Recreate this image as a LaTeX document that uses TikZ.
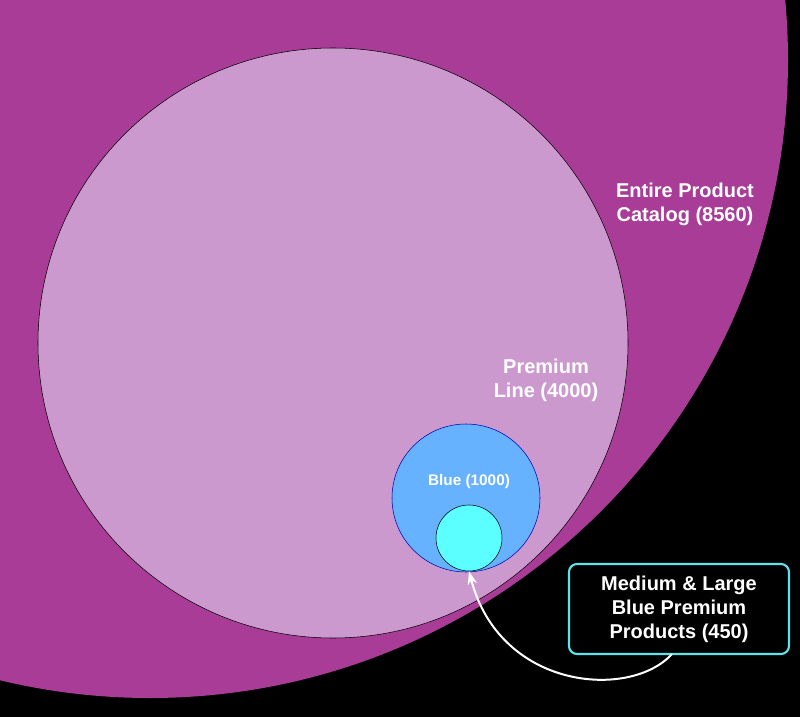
\documentclass[tikz,border=0pt]{standalone}
\usepackage{fontspec}
\setmainfont{Liberation Sans}
\usetikzlibrary{arrows.meta}
\definecolor{cat}{HTML}{A83C96}
\definecolor{prem}{HTML}{CC99CF}
\definecolor{blu}{HTML}{66B2FF}
\definecolor{cy}{HTML}{5CFFFF}
\definecolor{boxc}{HTML}{5FE3EA}
\begin{document}
\begin{tikzpicture}[x=0.75pt,y=-0.75pt,
  lbl/.style={text=white,font=\bfseries\fontsize{15}{18}\selectfont,align=center}]
\useasboundingbox (0,0) rectangle (800,717);
\fill[black] (0,0) rectangle (800,717);
\begin{scope}
\clip (0,0) rectangle (800,717);
\fill[cat] (150,60) circle[radius=638];
\end{scope}
\node[circle,draw=black,fill=prem,minimum size=590*0.75pt,inner sep=0] (prem) at (333,343) {};
\node[circle,draw=blue!70!black,fill=blu,minimum size=148*0.75pt,inner sep=0] (blue) at (466,498) {};
\node[circle,draw=black,fill=cy,minimum size=66*0.75pt,inner sep=0] (ml) at (469,538) {};
\node[lbl] (tcat) at (685,204) {Entire Product\\Catalog (8560)};
\node[lbl] (tprem) at (546,380) {Premium\\Line (4000)};
\node[text=white,font=\bfseries\fontsize{11.5}{14}\selectfont] (tblue) at (469,482) {Blue (1000)};
\node[lbl,draw=boxc,line width=1.6pt,rounded corners=6pt,fill=black,minimum width=220*0.75pt,minimum height=90*0.75pt,inner sep=2pt] (box) at (679,609) {Medium \& Large\\Blue Premium\\Products (450)};
\draw[white,line width=1.5pt,-{Stealth[length=10pt,width=7pt]}] (672,654) .. controls (630,700) and (500,690) .. (ml.south);
\end{tikzpicture}
\end{document}
